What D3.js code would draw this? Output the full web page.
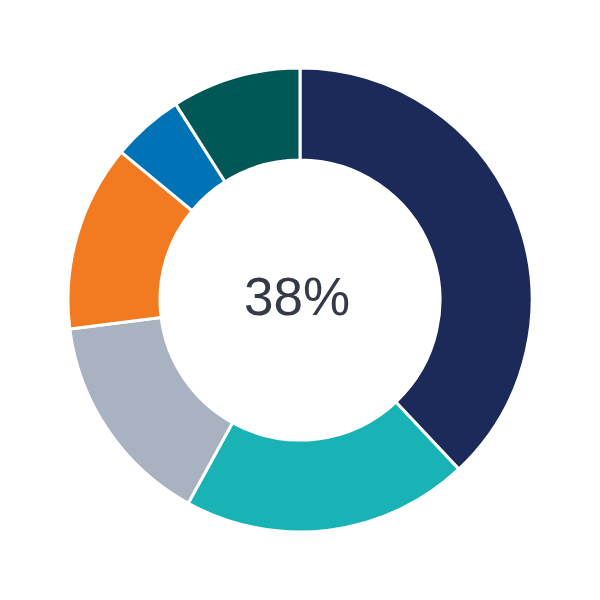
<!DOCTYPE html>
<html>
<head>
<meta charset="utf-8">
<script src="https://cdn.jsdelivr.net/npm/d3@7"></script>
<style>
  body { margin: 0; background: #fff; }
  svg { display: block; }
</style>
</head>
<body>
<svg id="chart" width="600" height="600"></svg>
<script>
// slice values, clockwise from 12 o'clock
const categories = ['A', 'B', 'C', 'D', 'E', 'F']
const values = [38, 20, 15, 13, 5, 9]
const colors = ['#1c2a5a', '#1ab3b5', '#a8b2c1', '#f27b21', '#0072b6', '#005856']
const centerLabel = '38%'

const width = 600
const height = 600
const outerR = 232
const innerR = 140

const svg = d3.select('svg#chart')
const g = svg.append('g').attr('transform', `translate(${width / 2}, ${height / 2})`)

const color = d3.scaleOrdinal().domain(categories).range(colors)

const pie = d3.pie().sort(null).value((d, i) => values[i])
const arc = d3.arc().innerRadius(innerR).outerRadius(outerR)

g.selectAll('path')
  .data(pie(categories))
  .enter()
  .append('path')
  .attr('d', arc)
  .attr('fill', d => color(d.data))
  .attr('stroke', '#fff')
  .attr('stroke-width', 3)

g.append('text')
  .attr('x', -3)
  .attr('y', 15)
  .attr('text-anchor', 'middle')
  .style('font-family', 'Liberation Sans, Arial, sans-serif')
  .style('font-size', '53px')
  .style('fill', '#343a46')
  .text(centerLabel)
</script>
</body>
</html>
